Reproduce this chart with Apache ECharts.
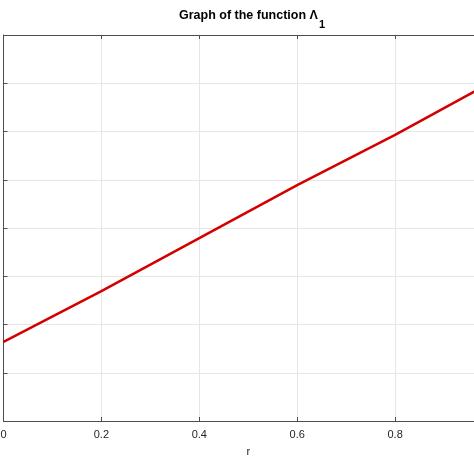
<!DOCTYPE html>
<html>
<head>
<meta charset="utf-8">
<script src="https://cdn.jsdelivr.net/npm/echarts@6/dist/echarts.min.js"></script>
<style>html,body{margin:0;padding:0;background:#fff;overflow:hidden;width:474px;height:474px}#c{width:494px;height:474px}</style>
</head>
<body>
<div id="c"></div>
<script>
// data
const rValues = [0, 0.2, 0.4, 0.6, 0.8, 1.0];
const lambdaValues = [1.64, 2.69, 3.79, 4.89, 5.93, 7.04];
const titleMain = 'Graph of the function \u039b';
const titleSub = '1';
const xName = 'r';

const chart = echarts.init(document.getElementById('c'), null, {renderer: 'canvas'});
const axisColor = '#4d4d4d';
const labelColor = '#262626';
const font = 'Liberation Sans, Arial, sans-serif';
chart.setOption({
  animation: false,
  backgroundColor: '#fff',
  title: {
    text: '{a|' + titleMain + '}{s|' + titleSub + '}',
    left: 247,
    textAlign: 'center',
    top: 4,
    textStyle: {
      rich: {
        a: {fontFamily: font, fontSize: 12.5, fontWeight: 'bold', color: '#000', lineHeight: 15, verticalAlign: 'top'},
        s: {fontFamily: font, fontSize: 11, fontWeight: 'bold', color: '#000', padding: [10, 0, 0, 1], verticalAlign: 'top'}
      }
    }
  },
  grid: {left: 3.5, right: 1, top: 35, bottom: 53, containLabel: false, outerBoundsMode: 'none'},
  xAxis: [{
    type: 'value', min: 0, max: 1, interval: 0.2, position: 'bottom',
    name: xName, nameLocation: 'middle', nameGap: 25,
    nameTextStyle: {color: labelColor, fontSize: 11, fontFamily: font},
    axisLine: {show: true, lineStyle: {color: axisColor, width: 1}},
    axisTick: {show: true, inside: true, length: 4, lineStyle: {color: axisColor}},
    axisLabel: {color: labelColor, fontSize: 11, margin: 8, fontFamily: font,
      showMinLabel: true, formatter: v => String(Math.round(v * 10) / 10)},
    splitLine: {show: true, lineStyle: {color: '#e6e6e6', width: 1}}
  }, {
    type: 'value', min: 0, max: 1, interval: 0.2, position: 'top',
    axisLine: {show: true, lineStyle: {color: axisColor, width: 1}},
    axisTick: {show: true, inside: true, length: 4, lineStyle: {color: axisColor}},
    axisLabel: {show: false}, splitLine: {show: false}
  }],
  yAxis: [{
    type: 'value', min: 0, max: 8, interval: 1, position: 'left',
    axisLine: {show: true, lineStyle: {color: axisColor, width: 1}},
    axisTick: {show: true, inside: true, length: 4, lineStyle: {color: axisColor}},
    axisLabel: {show: false},
    splitLine: {show: true, lineStyle: {color: '#e6e6e6', width: 1}}
  }],
  series: [{
    type: 'line',
    data: rValues.map((r, i) => [r, lambdaValues[i]]),
    showSymbol: false,
    lineStyle: {color: '#d40000', width: 2.5},
    clip: true
  }]
});
</script>
</body>
</html>
